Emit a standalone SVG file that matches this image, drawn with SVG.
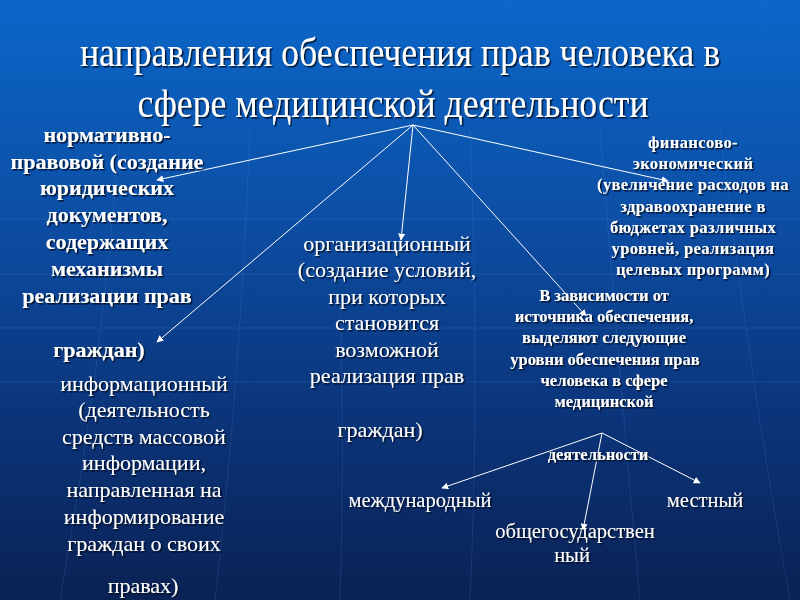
<svg xmlns="http://www.w3.org/2000/svg" width="800" height="600" viewBox="0 0 800 600">
<defs>
  <linearGradient id="bg" x1="0" y1="0" x2="0" y2="1">
    <stop offset="0" stop-color="#0b67c9"/>
    <stop offset="0.35" stop-color="#0c4fa6"/>
    <stop offset="0.7" stop-color="#0b3479"/>
    <stop offset="1" stop-color="#0a2254"/>
  </linearGradient>
  <filter id="sh" x="-10%" y="-30%" width="120%" height="160%">
    <feDropShadow dx="1.5" dy="1.5" stdDeviation="0.6" flood-color="#000820" flood-opacity="0.9"/>
  </filter>
  <marker id="ah" viewBox="0 0 10 10" refX="9" refY="5" markerWidth="7" markerHeight="7" markerUnits="userSpaceOnUse" orient="auto">
    <path d="M0,0 L10,5 L0,10 z" fill="#ffffff"/>
  </marker>
</defs>
<style>
  text { fill: #ffffff; font-family: "Liberation Serif", "Times New Roman", serif; text-anchor: middle; }
  .title { font-size: 40px; }
  .bold { font-weight: bold; font-size: 22px; }
  .reg { font-size: 22px; }
  .fin { font-weight: bold; font-size: 16.5px; letter-spacing: 0.4px; }
  .lev { font-weight: bold; font-size: 16.5px; }
  .lvl { font-size: 20.5px; }
  .conn line { stroke: #ffffff; stroke-width: 1; marker-end: url(#ah); }
  .grid { stroke: #6fa3e8; stroke-width: 1; fill: none; opacity: 0.14; }
</style>
<rect x="0" y="0" width="800" height="600" fill="url(#bg)"/>
<g class="grid">
  <path d="M0,219 L800,219"/>
  <path d="M0,274 L800,274"/>
  <path d="M0,328 L800,328"/>
  <path d="M0,382 L800,382"/>
  <path d="M120,140 Q100,380 60,600"/>
  <path d="M250,130 Q240,380 215,600"/>
  <path d="M340,300 Q345,450 340,600"/>
  <path d="M470,130 Q480,380 470,600"/>
  <path d="M600,130 Q620,380 640,600"/>
  <path d="M720,130 Q750,380 790,600"/>
</g>
<g id="title" filter="url(#sh)">
  <text class="title" x="400" y="66" textLength="640" lengthAdjust="spacingAndGlyphs">направления обеспечения прав человека в</text>
  <text class="title" x="393" y="117" textLength="511" lengthAdjust="spacingAndGlyphs">сфере медицинской деятельности</text>
</g>
<g id="connectors" class="conn">
  <line x1="413" y1="125" x2="157" y2="180"/>
  <line x1="413" y1="125" x2="157" y2="342"/>
  <line x1="413" y1="125" x2="401" y2="240"/>
  <line x1="413" y1="125" x2="668" y2="181"/>
  <line x1="413" y1="125" x2="586" y2="316"/>
  <line x1="602" y1="433" x2="442" y2="488"/>
  <line x1="602" y1="433" x2="700" y2="483"/>
  <line x1="602" y1="433" x2="583" y2="530"/>
</g>
<g id="node-normative" filter="url(#sh)">
  <text class="bold" x="107" y="142">нормативно-</text>
  <text class="bold" x="107" y="169">правовой (создание</text>
  <text class="bold" x="107" y="195">юридических</text>
  <text class="bold" x="107" y="222">документов,</text>
  <text class="bold" x="107" y="249">содержащих</text>
  <text class="bold" x="107" y="276">механизмы</text>
  <text class="bold" x="107" y="303">реализации прав</text>
  <text class="bold" x="99" y="357">граждан)</text>
</g>
<g id="node-organizational" filter="url(#sh)">
  <text class="reg" x="387" y="251">организационный</text>
  <text class="reg" x="387" y="277">(создание условий,</text>
  <text class="reg" x="387" y="304">при которых</text>
  <text class="reg" x="387" y="330">становится</text>
  <text class="reg" x="387" y="357">возможной</text>
  <text class="reg" x="387" y="383">реализация прав</text>
  <text class="reg" x="380" y="437">граждан)</text>
</g>
<g id="node-informational" filter="url(#sh)">
  <text class="reg" x="144" y="391">информационный</text>
  <text class="reg" x="144" y="417">(деятельность</text>
  <text class="reg" x="144" y="444">средств массовой</text>
  <text class="reg" x="144" y="470">информации,</text>
  <text class="reg" x="144" y="497">направленная на</text>
  <text class="reg" x="144" y="524">информирование</text>
  <text class="reg" x="144" y="551">граждан о своих</text>
  <text class="reg" x="143" y="593">правах)</text>
</g>
<g id="node-financial" filter="url(#sh)">
  <text class="fin" x="693" y="148">финансово-</text>
  <text class="fin" x="693" y="169">экономический</text>
  <text class="fin" x="693" y="190">(увеличение расходов на</text>
  <text class="fin" x="693" y="212">здравоохранение в</text>
  <text class="fin" x="693" y="233">бюджетах различных</text>
  <text class="fin" x="693" y="254">уровней, реализация</text>
  <text class="fin" x="693" y="275">целевых программ)</text>
</g>
<g id="node-levels" filter="url(#sh)">
  <text class="lev" x="604" y="301">В зависимости от</text>
  <text class="lev" x="604" y="322">источника обеспечения,</text>
  <text class="lev" x="604" y="343">выделяют следующие</text>
  <text class="lev" x="605" y="365">уровни обеспечения прав</text>
  <text class="lev" x="604" y="386">человека в сфере</text>
  <text class="lev" x="604" y="407">медицинской</text>
  <text class="lev" x="598" y="460">деятельности</text>
</g>
<g id="node-international" filter="url(#sh)">
  <text class="lvl" x="420" y="507">международный</text>
</g>
<g id="node-local" filter="url(#sh)">
  <text class="lvl" x="705" y="507">местный</text>
</g>
<g id="node-national" filter="url(#sh)">
  <text class="lvl" x="575" y="538">общегосударствен</text>
  <text class="lvl" x="572" y="562">ный</text>
</g>
</svg>
